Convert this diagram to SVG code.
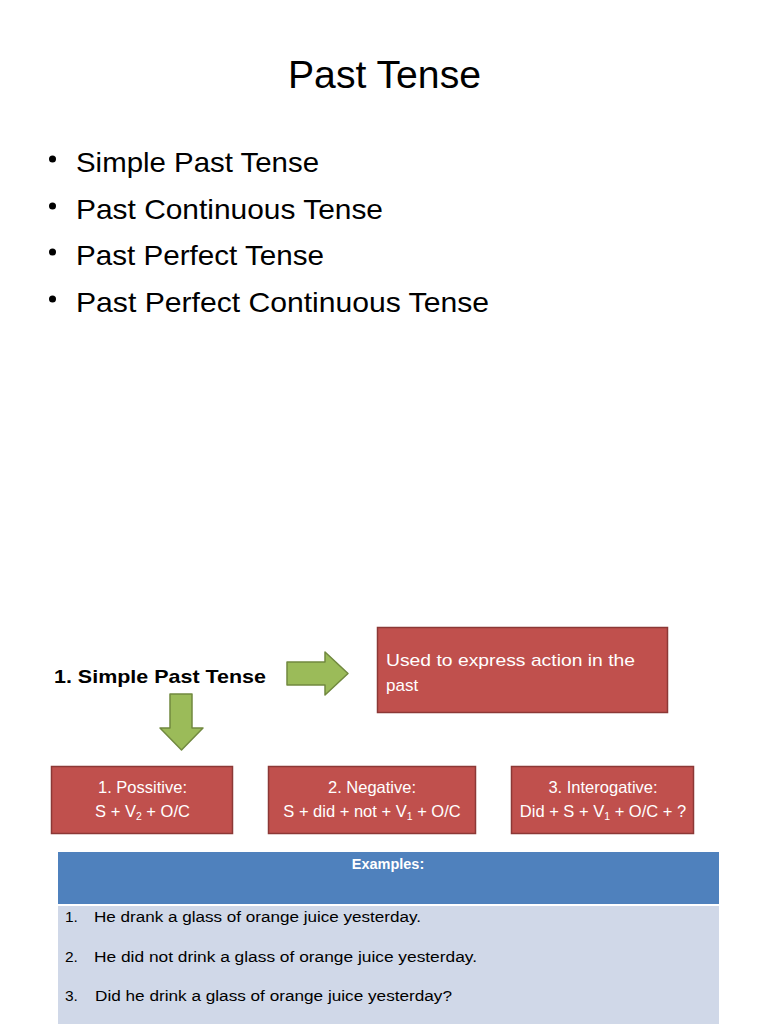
<svg xmlns="http://www.w3.org/2000/svg" width="768" height="1024" viewBox="0 0 768 1024">
<style>
text{font-family:"Liberation Sans",Arial,sans-serif;fill:#000}
.t{font-size:38px}
.b{font-size:28px}
.lbl{font-size:19px;font-weight:bold}
.red{fill:#C0504D;stroke:#8C3836;stroke-width:1.5}
.w{fill:#fff}
.bx{font-size:16.5px;fill:#fff;text-anchor:middle}
.arr{fill:#9BBB59;stroke:#71893F;stroke-width:1.5;stroke-linejoin:round}
.row{font-size:15.5px}
.sub{font-size:10.5px}
</style>
<rect width="768" height="1024" fill="#fff"/>
<g id="title"><text class="t" x="288" y="88" textLength="193" lengthAdjust="spacingAndGlyphs">Past Tense</text></g>
<g id="bullets">
<circle cx="52.5" cy="159" r="3.5"/>
<text class="b" x="76" y="172" textLength="243" lengthAdjust="spacingAndGlyphs">Simple Past Tense</text>
<circle cx="52.5" cy="206" r="3.5"/>
<text class="b" x="76" y="219" textLength="307" lengthAdjust="spacingAndGlyphs">Past Continuous Tense</text>
<circle cx="52.5" cy="252" r="3.5"/>
<text class="b" x="76" y="265" textLength="248" lengthAdjust="spacingAndGlyphs">Past Perfect Tense</text>
<circle cx="52.5" cy="299" r="3.5"/>
<text class="b" x="76" y="312" textLength="413" lengthAdjust="spacingAndGlyphs">Past Perfect Continuous Tense</text>
</g>
<g id="label"><text class="lbl" x="54" y="683" textLength="212" lengthAdjust="spacingAndGlyphs">1. Simple Past Tense</text></g>
<g id="connectors">
<path class="arr" d="M287,662 H325 V652 L348,673.5 L325,695 V685 H287 Z"/>
<path class="arr" d="M170,694 H192 V728 H203 L181.5,750 L160,728 H170 Z"/>
</g>
<g id="definition">
<rect class="red" x="377.5" y="627.5" width="290" height="85"/>
<text class="w" style="font-size:17px" x="386" y="666" textLength="249" lengthAdjust="spacingAndGlyphs">Used to express action in the</text>
<text class="w" style="font-size:17px" x="386" y="691">past</text>
</g>
<g id="positive">
<rect class="red" x="51.5" y="766.5" width="181" height="67"/>
<text class="bx" x="142.5" y="793">1. Possitive:</text>
<text class="bx" x="142.5" y="817">S + V<tspan class="sub" dy="3">2</tspan><tspan dy="-3"> + O/C</tspan></text>
</g>
<g id="negative">
<rect class="red" x="268.5" y="766.5" width="207" height="67"/>
<text class="bx" x="372" y="793">2. Negative:</text>
<text class="bx" x="372" y="817">S + did + not + V<tspan class="sub" dy="3">1</tspan><tspan dy="-3"> + O/C</tspan></text>
</g>
<g id="interrogative">
<rect class="red" x="511.5" y="766.5" width="182" height="67"/>
<text class="bx" x="603" y="793">3. Interogative:</text>
<text class="bx" x="603" y="817">Did + S + V<tspan class="sub" dy="3">1</tspan><tspan dy="-3"> + O/C + ?</tspan></text>
</g>
<g id="examples">
<rect x="58" y="852" width="661" height="52" fill="#4F81BD"/>
<rect x="58" y="906" width="661" height="118" fill="#D0D8E8"/>
<text x="388" y="869" style="font-size:14.5px;font-weight:bold;fill:#fff;text-anchor:middle">Examples:</text>
<text class="row" x="65" y="922">1.</text>
<text class="row" x="94" y="922" textLength="327" lengthAdjust="spacingAndGlyphs">He drank a glass of orange juice yesterday.</text>
<text class="row" x="65" y="962">2.</text>
<text class="row" x="94" y="962" textLength="383" lengthAdjust="spacingAndGlyphs">He did not drink a glass of orange juice yesterday.</text>
<text class="row" x="65" y="1001">3.</text>
<text class="row" x="95" y="1001" textLength="357" lengthAdjust="spacingAndGlyphs">Did he drink a glass of orange juice yesterday?</text>
</g>
</svg>
